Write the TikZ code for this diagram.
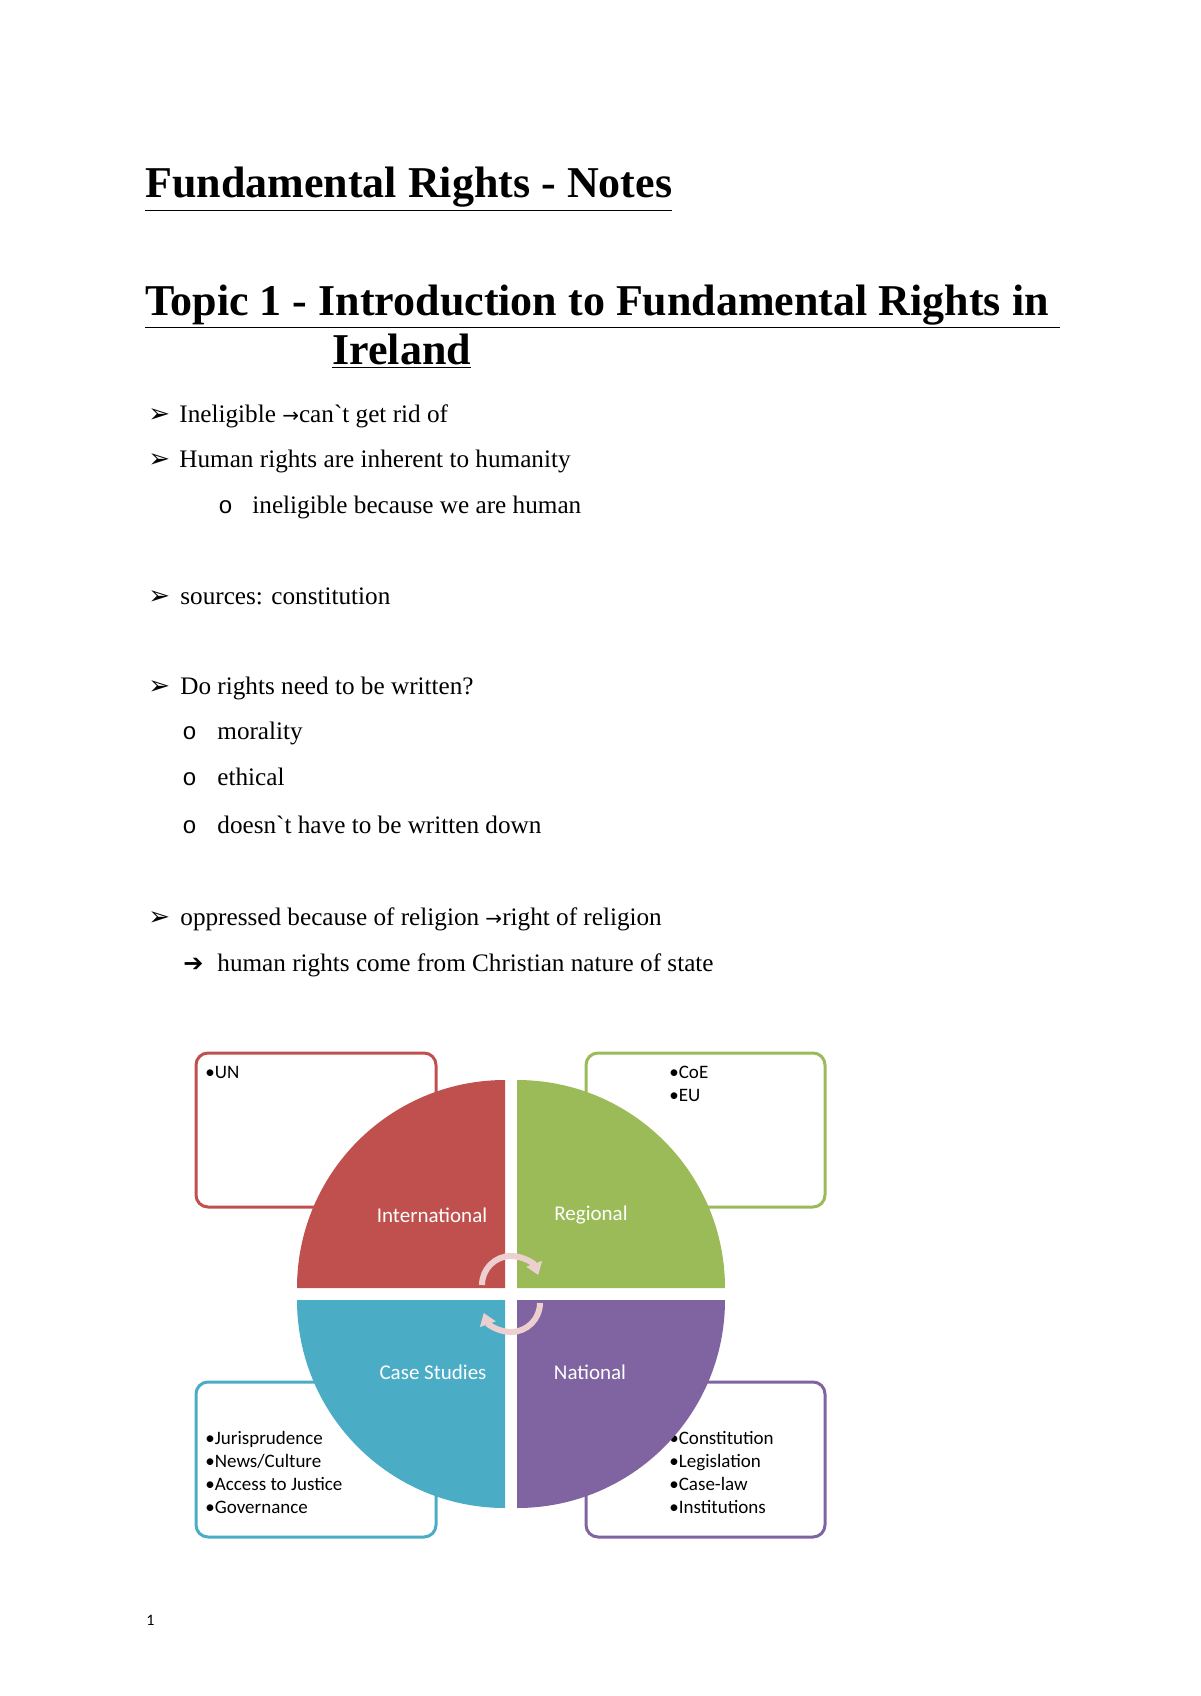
\documentclass[tikz,border=0pt]{standalone}
\usepackage{fontspec}
\setmainfont{Liberation Serif}
\newfontfamily\plainserif{Liberation Serif}
\newfontfamily\symfont{DejaVu Sans}
\newfontfamily\monofont{Liberation Mono}
\newfontfamily\calfont{Carlito}
\usetikzlibrary{arrows.meta}
\definecolor{intred}{HTML}{C0504D}
\definecolor{reggreen}{HTML}{9BBB59}
\definecolor{caseblue}{HTML}{4BACC6}
\definecolor{natpurple}{HTML}{8064A2}
\definecolor{cyclepink}{RGB}{236,208,208}
\newcommand{\arrbul}{{\symfont\fontsize{13pt}{15pt}\selectfont ➢}}
\newcommand{\circbul}{{\monofont\fontsize{12pt}{14pt}\selectfont o}}
\newcommand{\rarr}{{\symfont\fontsize{10pt}{12pt}\selectfont →}}
\newcommand{\grv}{{\plainserif\char"60}}

\begin{document}
\begin{tikzpicture}[x=0.5pt, y=-0.5pt,
    txt/.style={anchor=base west, inner sep=0pt, font=\fontsize{12.6pt}{15pt}\selectfont},
    head/.style={anchor=base west, inner sep=0pt, font=\fontsize{22pt}{26pt}\selectfont\bfseries},
    infobox/.style={rounded corners=6pt, line width=1.5pt, fill=white},
    quadlabel/.style={text=white, inner sep=0pt, font=\calfont\fontsize{10.5pt}{12pt}\selectfont},
    boxtext/.style={anchor=north west, inner sep=0pt, align=left, font=\calfont\fontsize{9.5pt}{11.5pt}\selectfont},
    cycle/.style={line width=3pt, draw=cyclepink, -{Triangle[length=6pt,width=8pt]}}]
    \useasboundingbox (0,0) rectangle (1200,1696);

    %Headings
    \node[head](title) at (145,198){\underline{Fundamental Rights - Notes}};
    \node[head](topic) at (145,315){\underline{Topic 1 - Introduction to Fundamental Rights in\ }};
    \node[head](ireland) at (332,364){\underline{Ireland}};

    %Notes
    \node[txt](b1) at (148,422){\arrbul};
    \node[txt](t1) at (179,422){Ineligible \rarr can\grv t get rid of};
    \node[txt](b2) at (148,467){\arrbul};
    \node[txt](t2) at (179,467){Human rights are inherent to humanity};
    \node[txt](b3) at (218,513){\circbul};
    \node[txt](t3) at (252,513){ineligible because we are human};
    \node[txt](b4) at (148,604){\arrbul};
    \node[txt](t4) at (180,604){sources: constitution};
    \node[txt](b5) at (148,694){\arrbul};
    \node[txt](t5) at (180,694){Do rights need to be written?};
    \node[txt](b6) at (182,739){\circbul};
    \node[txt](t6) at (217,739){morality};
    \node[txt](b7) at (182,785){\circbul};
    \node[txt](t7) at (217,785){ethical};
    \node[txt](b8) at (182,833){\circbul};
    \node[txt](t8) at (217,833){doesn\grv t have to be written down};
    \node[txt](b9) at (148,925){\arrbul};
    \node[txt](t9) at (180,925){oppressed because of religion \rarr right of religion};
    \node[txt](b10) at (183,971){{\symfont\fontsize{12pt}{14pt}\selectfont\bfseries ➔}};
    \node[txt](t10) at (217,971){human rights come from Christian nature of state};

    %Boxes
    \draw[infobox, draw=intred] (196,1053) rectangle (436,1207);
    \draw[infobox, draw=reggreen] (586,1053) rectangle (825,1207);
    \draw[infobox, draw=caseblue] (196,1382) rectangle (436,1537);
    \draw[infobox, draw=natpurple] (586,1382) rectangle (825,1537);
    \node[boxtext](un) at (205,1066){•UN};
    \node[boxtext](coe) at (669,1066){•CoE\\•EU};
    \node[boxtext](cases) at (205,1431){•Jurisprudence\\•News/Culture\\•Access to Justice\\•Governance};
    \node[boxtext](nat) at (669,1431){•Constitution\\•Legislation\\•Case-law\\•Institutions};

    %Quadrants
    \fill[intred] (505,1288) -- ++(-104pt,0) arc[start angle=180, end angle=90, radius=104pt] -- cycle;
    \fill[reggreen] (517,1288) -- ++(0,104pt) arc[start angle=90, end angle=0, radius=104pt] -- cycle;
    \fill[caseblue] (505,1300) -- ++(-104pt,0) arc[start angle=180, end angle=270, radius=104pt] -- cycle;
    \fill[natpurple] (517,1300) -- ++(0,-104pt) arc[start angle=270, end angle=360, radius=104pt] -- cycle;
    \node[quadlabel](international) at (432,1215){International};
    \node[quadlabel](regional) at (591,1215){Regional};
    \node[quadlabel](casestudies) at (433,1372){Case Studies};
    \node[quadlabel](national) at (590,1372){National};

    %Cycle arrows
    \draw[cycle] (482,1285) arc[start angle=180, end angle=20, radius=14.5pt];
    \draw[cycle] (540,1303) arc[start angle=0, end angle=-160, radius=14.5pt];

    \node[anchor=base west, inner sep=0pt, font=\calfont\fontsize{8pt}{10pt}\selectfont](page) at (146,1625){1};
\end{tikzpicture}
\end{document}
